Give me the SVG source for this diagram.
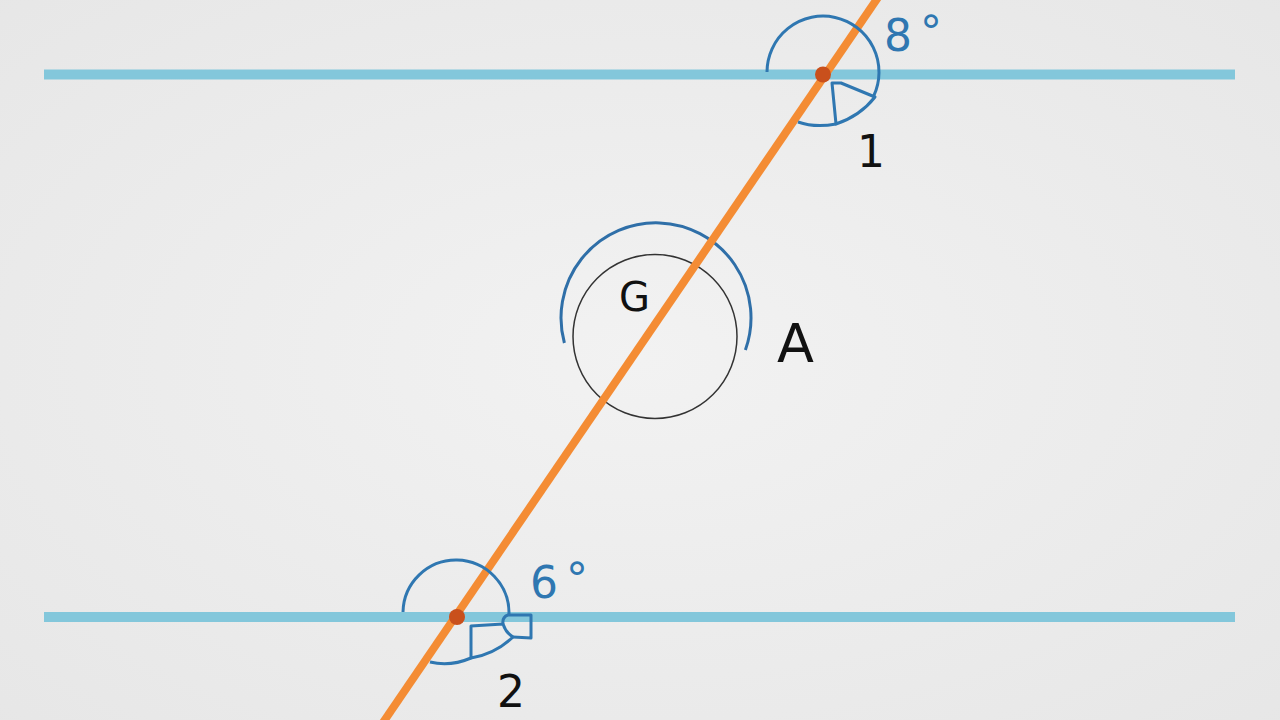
<svg xmlns="http://www.w3.org/2000/svg" width="1280" height="720" viewBox="0 0 1280 720">
  <defs>
    <radialGradient id="bg" cx="50%" cy="50%" r="75%">
      <stop offset="0" stop-color="#f2f2f2"/>
      <stop offset="1" stop-color="#e6e6e6"/>
    </radialGradient>
    <style>
      .par { stroke: #83c7db; stroke-width: 10; fill: none; }
      .trans { stroke: #f48c34; stroke-width: 8; fill: none; }
      .mark { stroke: #2f77b1; stroke-width: 3; fill: none; stroke-linejoin: round; }
      .dot { fill: #c9501c; }
      .blue { font-family: "DejaVu Sans", sans-serif; fill: #2f77b1; font-size: 44px; letter-spacing: 8px; }
      .black { font-family: "DejaVu Sans", sans-serif; fill: #111; }
    </style>
  </defs>
  <rect width="1280" height="720" fill="url(#bg)"/>

  <g id="connectors">
    <line id="line-top" class="par" x1="44" y1="74.5" x2="1235" y2="74.5"/>
    <line id="line-bottom" class="par" x1="44" y1="617" x2="1235" y2="617"/>
  </g>

  <g id="circle-G">
    <circle cx="655" cy="336.5" r="82" fill="none" stroke="#333" stroke-width="1.5"/>
    <path d="M 564.4 343 A 95 95 0 1 1 745.4 350" fill="none" stroke="#2f6fa8" stroke-width="3"/>
    <text class="black" x="619" y="311" font-size="40">G</text>
  </g>

  <g id="transversal">
    <line class="trans" x1="879" y1="-4" x2="382" y2="724"/>
  </g>

  <g id="angle-1">
    <path class="mark" d="M 767 72 A 56 56 0 1 1 873.8 95.7"/>
    <path class="mark" d="M 832 83 L 841 83 L 875 97 Q 860 116 836 124 Z"/>
    <path class="mark" d="M 798 122 Q 815 128 836 124"/>
    <circle class="dot" cx="823" cy="74.5" r="8"/>
    <text class="blue" x="884" y="51">8<tspan dy="-4">°</tspan></text>
    <text class="black" x="857" y="167" font-size="44">1</text>
  </g>

  <g id="angle-2">
    <path class="mark" d="M 403 612 A 53 53 0 1 1 509 614"/>
    <path class="mark" d="M 471 626 L 503 624 Q 506 633 513 637 Q 495 654 471 658 Z"/>
    <path class="mark" d="M 503 624 Q 502 617 508 615 L 531 615 L 531 638 L 513 637"/>
    <path class="mark" d="M 430 662 Q 450 667 471 658"/>
    <circle class="dot" cx="457" cy="617" r="8"/>
    <text class="blue" x="530" y="598">6<tspan dy="-4">°</tspan></text>
    <text class="black" x="497" y="707" font-size="44">2</text>
  </g>

  <g id="label-A">
    <text class="black" x="777" y="362" font-size="54">A</text>
  </g>
</svg>
